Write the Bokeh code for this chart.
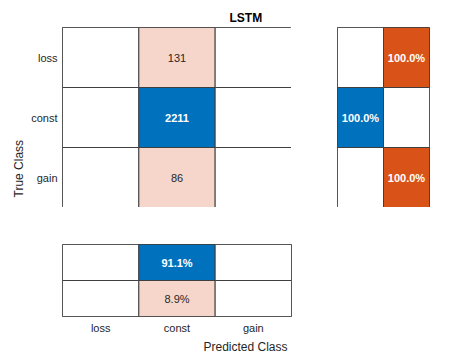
from bokeh.plotting import figure
from bokeh.models import ColumnDataSource, Title, FactorRange
from bokeh.layouts import column, row
from bokeh.embed import file_html
from bokeh.resources import INLINE
from bokeh.core.properties import value

# ---------------- data ----------------
chart_title = "LSTM"
classes = ["loss", "const", "gain"]
# confusion counts: one list per true class, entries = predicted class
true_loss = [0, 131, 0]
true_const = [0, 2211, 0]
true_gain = [0, 86, 0]
row_summary_cols = ["correct", "incorrect"]
col_summary_rows = ["correct", "incorrect"]
x_label = "Predicted Class"
y_label = "True Class"

# ---------------- styles ----------------
FONT = "Liberation Sans"
BLUE = "#0072BD"
ORANGE = "#D95319"
LIGHT_BLUE = "#D2E3F2"
LIGHT_ORANGE = "#F6D6CA"
GRID = "#3F3F3F"
DARK_TEXT = "#262626"

matrix = [true_loss, true_const, true_gain]
max_count = max(max(r) for r in matrix)


def cell_color(frac, diag):
    if frac <= 0:
        return "white"
    if frac >= 0.5:
        return BLUE if diag else ORANGE
    return LIGHT_BLUE if diag else LIGHT_ORANGE


def text_style(color):
    if color in (BLUE, ORANGE):
        return "white", "bold"
    return DARK_TEXT, "normal"


# main matrix source
mx, my, mc, mt, mtc, mfs = [], [], [], [], [], []
for i, t in enumerate(classes):
    for j, pcls in enumerate(classes):
        v = matrix[i][j]
        col = cell_color(v / max_count, i == j)
        tc, fs = text_style(col)
        mx.append(pcls); my.append(t); mc.append(col)
        mt.append(str(v) if v > 0 else ""); mtc.append(tc); mfs.append(fs)
main_src = ColumnDataSource(dict(x=mx, y=my, color=mc, label=mt, tc=mtc, fs=mfs))

# row summary (right)
rx, ry, rc, rt, rtc, rfs = [], [], [], [], [], []
for i, t in enumerate(classes):
    total = sum(matrix[i])
    correct = matrix[i][i] / total * 100 if total else 0
    vals = [correct, 100 - correct if total else 0]
    for k, name in enumerate(row_summary_cols):
        v = vals[k]
        col = cell_color(v / 100, k == 0)
        tc, fs = text_style(col)
        rx.append(name); ry.append(t); rc.append(col)
        rt.append(f"{v:.1f}%" if v > 0 else ""); rtc.append(tc); rfs.append(fs)
row_src = ColumnDataSource(dict(x=rx, y=ry, color=rc, label=rt, tc=rtc, fs=rfs))

# column summary (bottom)
cx, cy, cc, ct, ctc, cfs = [], [], [], [], [], []
for j, pcls in enumerate(classes):
    total = sum(matrix[i][j] for i in range(len(classes)))
    correct = matrix[j][j] / total * 100 if total else 0
    vals = [correct, 100 - correct if total else 0]
    for k, name in enumerate(col_summary_rows):
        v = vals[k]
        col = cell_color(v / 100, k == 0)
        tc, fs = text_style(col)
        cx.append(pcls); cy.append(name); cc.append(col)
        ct.append(f"{v:.1f}%" if v > 0 else ""); ctc.append(tc); cfs.append(fs)
col_src = ColumnDataSource(dict(x=cx, y=cy, color=cc, label=ct, tc=ctc, fs=cfs))


def base_fig(xr, yr, w, h, bl, br, bt, bb, xloc=None, yloc=None):
    p = figure(x_range=xr, y_range=yr, width=w, height=h, title=None,
               output_backend="svg", toolbar_location=None,
               x_axis_location=xloc, y_axis_location=yloc,
               min_border_left=bl, min_border_right=br,
               min_border_top=bt, min_border_bottom=bb)
    p.xgrid.visible = False
    p.ygrid.visible = False
    p.outline_line_color = GRID
    p.outline_line_width = 1
    p.background_fill_color = "white"
    p.border_fill_color = "white"
    return p


def draw_cells(p, src):
    p.rect(x="x", y="y", width=1, height=1, source=src, fill_color="color",
           line_color=GRID, line_width=1)
    p.text(x="x", y="y", text="label", source=src, text_color="tc",
           text_font_style="fs", text_font=value(FONT), text_font_size="11px",
           text_align="center", text_baseline="middle")


def style_axis(ax):
    ax.axis_line_color = None
    ax.major_tick_line_color = None
    ax.minor_tick_line_color = None
    ax.major_tick_out = 0
    ax.major_label_standoff = 5
    ax.major_label_text_font = FONT
    ax.major_label_text_font_size = "11px"
    ax.major_label_text_color = DARK_TEXT


# main matrix
pA = base_fig(FactorRange(*classes), FactorRange(*reversed(classes)),
              291, 207, 62, 0, 27, 0, xloc=None, yloc="left")
draw_cells(pA, main_src)
style_axis(pA.yaxis[0])
pA.add_layout(Title(text=chart_title, align="left", offset=229 - 62, standoff=5,
                    text_font=FONT, text_font_size="12px", text_font_style="bold",
                    text_color="black"), "above")
pA.add_layout(Title(text=y_label, align="left", offset=10, standoff=6,
                    text_font=FONT, text_font_size="12px", text_font_style="normal",
                    text_color=DARK_TEXT), "left")

# row summary
pB = base_fig(FactorRange(*row_summary_cols), FactorRange(*reversed(classes)),
              183, 207, 46, 45, 27, 0)
draw_cells(pB, row_src)

# column summary
pC = base_fig(FactorRange(*classes), FactorRange(*reversed(col_summary_rows)),
              474, 148, 62, 183, 37, 39, xloc="below", yloc=None)
draw_cells(pC, col_src)
style_axis(pC.xaxis[0])
pC.add_layout(Title(text=x_label, align="left", offset=203 - 62, standoff=2,
                    text_font=FONT, text_font_size="12px", text_font_style="normal",
                    text_color=DARK_TEXT), "below")

layout = column(row(pA, pB), pC)
open("out.html", "w").write(file_html(layout, INLINE))
